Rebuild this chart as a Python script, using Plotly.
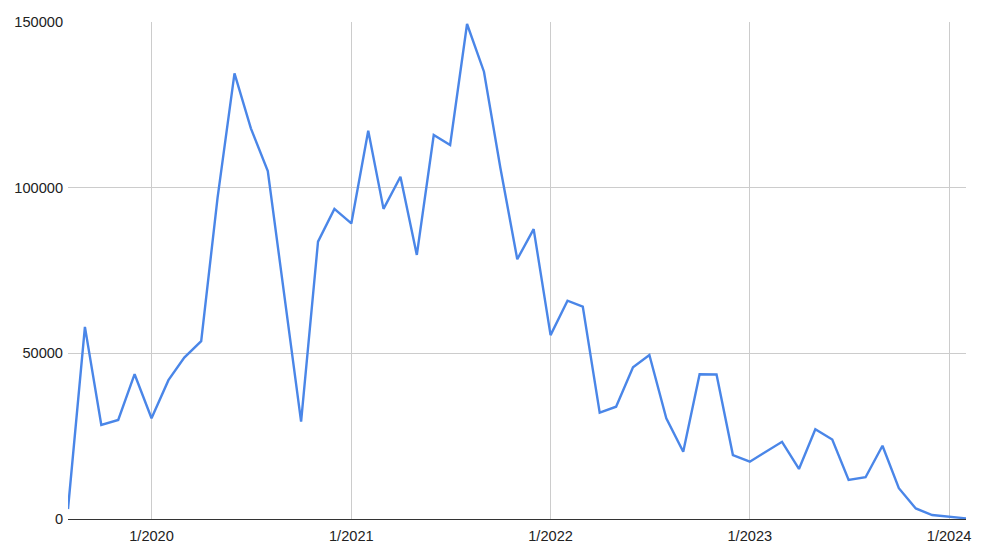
import plotly.graph_objects as go
import pandas as pd

months = pd.date_range("2019-08-01", "2024-02-01", freq="MS")
values = [3000, 58000, 28400, 29900, 43700,
          30400, 41900, 48700, 53700, 97000, 134500, 117900, 105000, 67000, 29400, 83700, 93600,
          89200, 117200, 93600, 103300, 79700, 115900, 112900, 149400, 135000, 106000, 78400, 87500,
          55500, 65900, 64100, 32100, 33900, 45800, 49500, 30400, 20300, 43700, 43600, 19300,
          17300, 20500, 23300, 15100, 27100, 24000, 11800, 12600, 22100, 9300, 3200, 1200,
          700, 200]
x_ticks = ["2020-01-01", "2021-01-01", "2022-01-01", "2023-01-01", "2024-01-01"]
x_tick_labels = ["1/2020", "1/2021", "1/2022", "1/2023", "1/2024"]
y_ticks = [0, 50000, 100000, 150000]

fig = go.Figure(go.Scatter(x=months, y=values, mode="lines",
                           line=dict(color="#4a86e8", width=2.4)))

fig.update_layout(
    width=984, height=559,
    margin=dict(l=68, r=18, t=22, b=40),
    plot_bgcolor="white", paper_bgcolor="white",
    showlegend=False,
    font=dict(family="Liberation Sans, Arial, sans-serif", size=14.6, color="#222222"),
)
fig.update_xaxes(
    type="date", range=[months[0], months[-1]],
    tickvals=x_ticks, ticktext=x_tick_labels,
    showgrid=True, gridcolor="#cccccc", gridwidth=1,
    showline=False, zeroline=False, ticks="", ticklabelstandoff=6,
)
fig.update_yaxes(
    range=[0, 150000], tickvals=y_ticks, ticktext=[str(v) for v in y_ticks],
    showgrid=True, gridcolor="#cccccc", gridwidth=1,
    zeroline=True, zerolinecolor="#333333", zerolinewidth=1,
    showline=False, ticks="", ticklabelstandoff=4,
)

fig.write_html("out.html")
